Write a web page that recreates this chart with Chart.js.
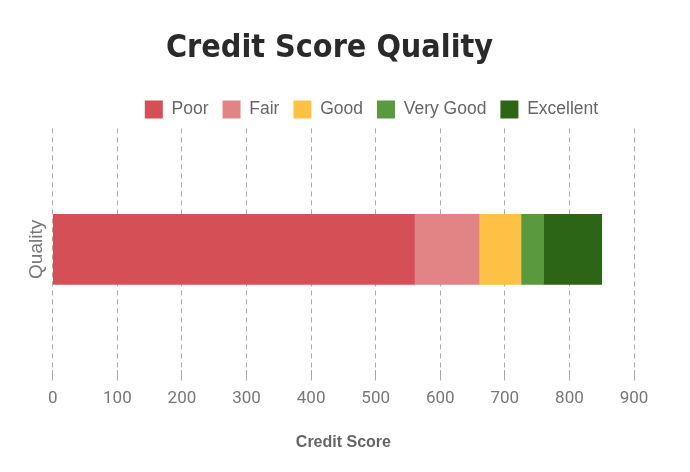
<!DOCTYPE html>
<html><head><meta charset="utf-8">
<script src="https://cdn.jsdelivr.net/npm/chart.js@4/dist/chart.umd.min.js"></script>
<style>html,body{margin:0;padding:0;background:#fff;}#wrap{width:690px;height:472px;}</style>
</head><body><div id="wrap"><canvas id="c"></canvas></div>
<script>
const categories = ["Quality"];
const seriesNames = ["Poor", "Fair", "Good", "Very Good", "Excellent"];
const seriesValues = [560, 100, 65, 35, 90];
const seriesColors = ["#d44f56", "#e28385", "#fdc145", "#5a9a3e", "#2c6516"];
const xTicks = [0, 100, 200, 300, 400, 500, 600, 700, 800, 900];

const datasets = seriesNames.map((n, i) => ({
  label: n,
  data: [seriesValues[i]],
  backgroundColor: seriesColors[i],
  borderColor: seriesColors[i],
  borderWidth: 0,
  barThickness: 70
}));

const legendShift = {
  id: 'legendShift',
  afterLayout(chart) { if (chart.legend) chart.legend.left += 84; }
};

new Chart(document.getElementById('c'), {
  type: 'bar',
  data: { labels: categories, datasets },
  plugins: [legendShift],
  options: {
    indexAxis: 'y',
    responsive: true,
    maintainAspectRatio: false,
    animation: false,
    layout: { padding: { left: 25, right: 56, top: 24, bottom: 16 } },
    plugins: {
      title: {
        display: true, text: 'Credit Score Quality', color: '#2a2a2a',
        font: { family: 'DejaVu Sans Condensed', size: 32, weight: 'bold' },
        padding: { top: 5, bottom: 19 }
      },
      legend: {
        labels: { color: '#666', font: { family: 'Liberation Sans', size: 17.5 }, boxWidth: 18, boxHeight: 18, padding: 14 }
      },
      tooltip: { enabled: false }
    },
    scales: {
      x: {
        stacked: true, min: 0, max: 900,
        afterBuildTicks: (ax) => { ax.ticks = xTicks.map(v => ({ value: v })); },
        ticks: { color: '#777', font: { family: 'Roboto', size: 17 }, padding: 8 },
        grid: { color: '#aaa', tickLength: 10, tickColor: '#aaa' },
        border: { display: false, dash: [5, 4] },
        title: { display: true, text: 'Credit Score', color: '#666', font: { family: 'Liberation Sans', size: 16, weight: 'bold' }, padding: { top: 16 } }
      },
      y: {
        stacked: true,
        ticks: { display: false },
        grid: { display: false },
        border: { display: false },
        title: { display: true, text: 'Quality', color: '#777', font: { family: 'Liberation Sans', size: 19 }, padding: { top: 0, bottom: -3 } }
      }
    }
  }
});
</script></body></html>
